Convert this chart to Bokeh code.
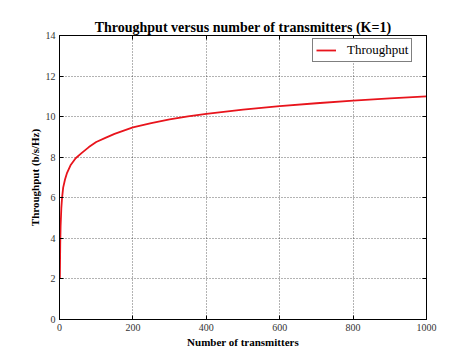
from bokeh.plotting import figure
from bokeh.models import LinearAxis, Range1d, Legend, LegendItem, FixedTicker
from bokeh.embed import file_html
from bokeh.resources import INLINE

# Values
transmitters = [1, 2, 3, 5, 7, 10, 15, 20, 30, 44, 60, 80, 100, 125, 150, 200,
                250, 300, 350, 400, 500, 600, 700, 800, 900, 1000]
throughput = [2.0, 3.7, 4.6, 5.5, 6.0, 6.5, 6.9, 7.2, 7.6, 7.95, 8.2, 8.5, 8.75,
              8.95, 9.15, 9.47, 9.68, 9.86, 10.01, 10.14, 10.35, 10.52, 10.66,
              10.79, 10.9, 11.0]
x_ticks = [0, 200, 400, 600, 800, 1000]
y_ticks = [0, 2, 4, 6, 8, 10, 12, 14]

title_text = "Throughput versus number of transmitters (K=1)"
x_label = "Number of transmitters"
y_label = "Throughput (b/s/Hz)"
series_name = "Throughput"

SERIF = "Liberation Serif"

p = figure(width=474, height=355, output_backend="svg", toolbar_location=None,
           x_range=Range1d(0, 1000), y_range=Range1d(0, 14),
           min_border_left=59, min_border_right=48, min_border_top=35,
           min_border_bottom=36, title=title_text)

p.title.text_font = SERIF
p.title.text_font_size = "14px"
p.title.text_font_style = "bold"
p.title.align = "center"
p.title.text_color = "black"
p.title.offset = 0
p.title.standoff = 1

p.outline_line_color = "black"
p.outline_line_width = 1
p.background_fill_color = "white"
p.border_fill_color = "white"

line = p.line(transmitters, throughput, line_color="#e8141c", line_width=1.8)

for ax in p.xaxis:
    ax.ticker = FixedTicker(ticks=x_ticks)
for ax in p.yaxis:
    ax.ticker = FixedTicker(ticks=y_ticks)

for ax in list(p.xaxis) + list(p.yaxis):
    ax.major_tick_in = 4
    ax.major_tick_out = 0
    ax.minor_tick_line_color = None
    ax.axis_line_color = "black"
    ax.major_tick_line_color = "black"
    ax.major_label_text_font = SERIF
    ax.major_label_text_font_size = "10px"
    ax.major_label_text_color = "#333333"
    ax.axis_label_text_font = SERIF
    ax.axis_label_text_font_size = "11px"
    ax.axis_label_text_font_style = "bold"
    ax.axis_label_text_color = "black"

p.xaxis.axis_label = x_label
p.yaxis.axis_label = y_label
p.xaxis.major_label_standoff = 4
p.yaxis.major_label_standoff = 4
p.xaxis.axis_label_standoff = 2
p.yaxis.axis_label_standoff = 2

top = LinearAxis(ticker=FixedTicker(ticks=x_ticks), major_tick_in=4, major_tick_out=0,
                 minor_tick_line_color=None,
                 major_label_overrides={t: "" for t in x_ticks},
                 major_label_standoff=0, axis_line_color="black")
right = LinearAxis(ticker=FixedTicker(ticks=y_ticks), major_tick_in=4, major_tick_out=0,
                   minor_tick_line_color=None,
                   major_label_overrides={t: "" for t in y_ticks},
                   major_label_standoff=0, axis_line_color="black")
p.add_layout(top, "above")
p.add_layout(right, "right")

for g in (p.xgrid[0], p.ygrid[0]):
    g.grid_line_color = "black"
    g.grid_line_alpha = 0.6
    g.grid_line_dash = "1 2"
    g.grid_line_width = 1
p.xgrid.ticker = FixedTicker(ticks=x_ticks)
p.ygrid.ticker = FixedTicker(ticks=y_ticks)

legend = Legend(items=[LegendItem(label=series_name, renderers=[line])],
                location=(253, 257))
legend.label_text_font = SERIF
legend.label_text_font_size = "13px"
legend.label_text_color = "black"
legend.border_line_color = "black"
legend.border_line_width = 1
legend.padding = 3
legend.margin = 0
legend.glyph_width = 20
legend.glyph_height = 14
legend.label_height = 14
legend.label_standoff = 11
legend.spacing = 0
p.add_layout(legend, "center")

open("out.html", "w").write(file_html(p, INLINE))
